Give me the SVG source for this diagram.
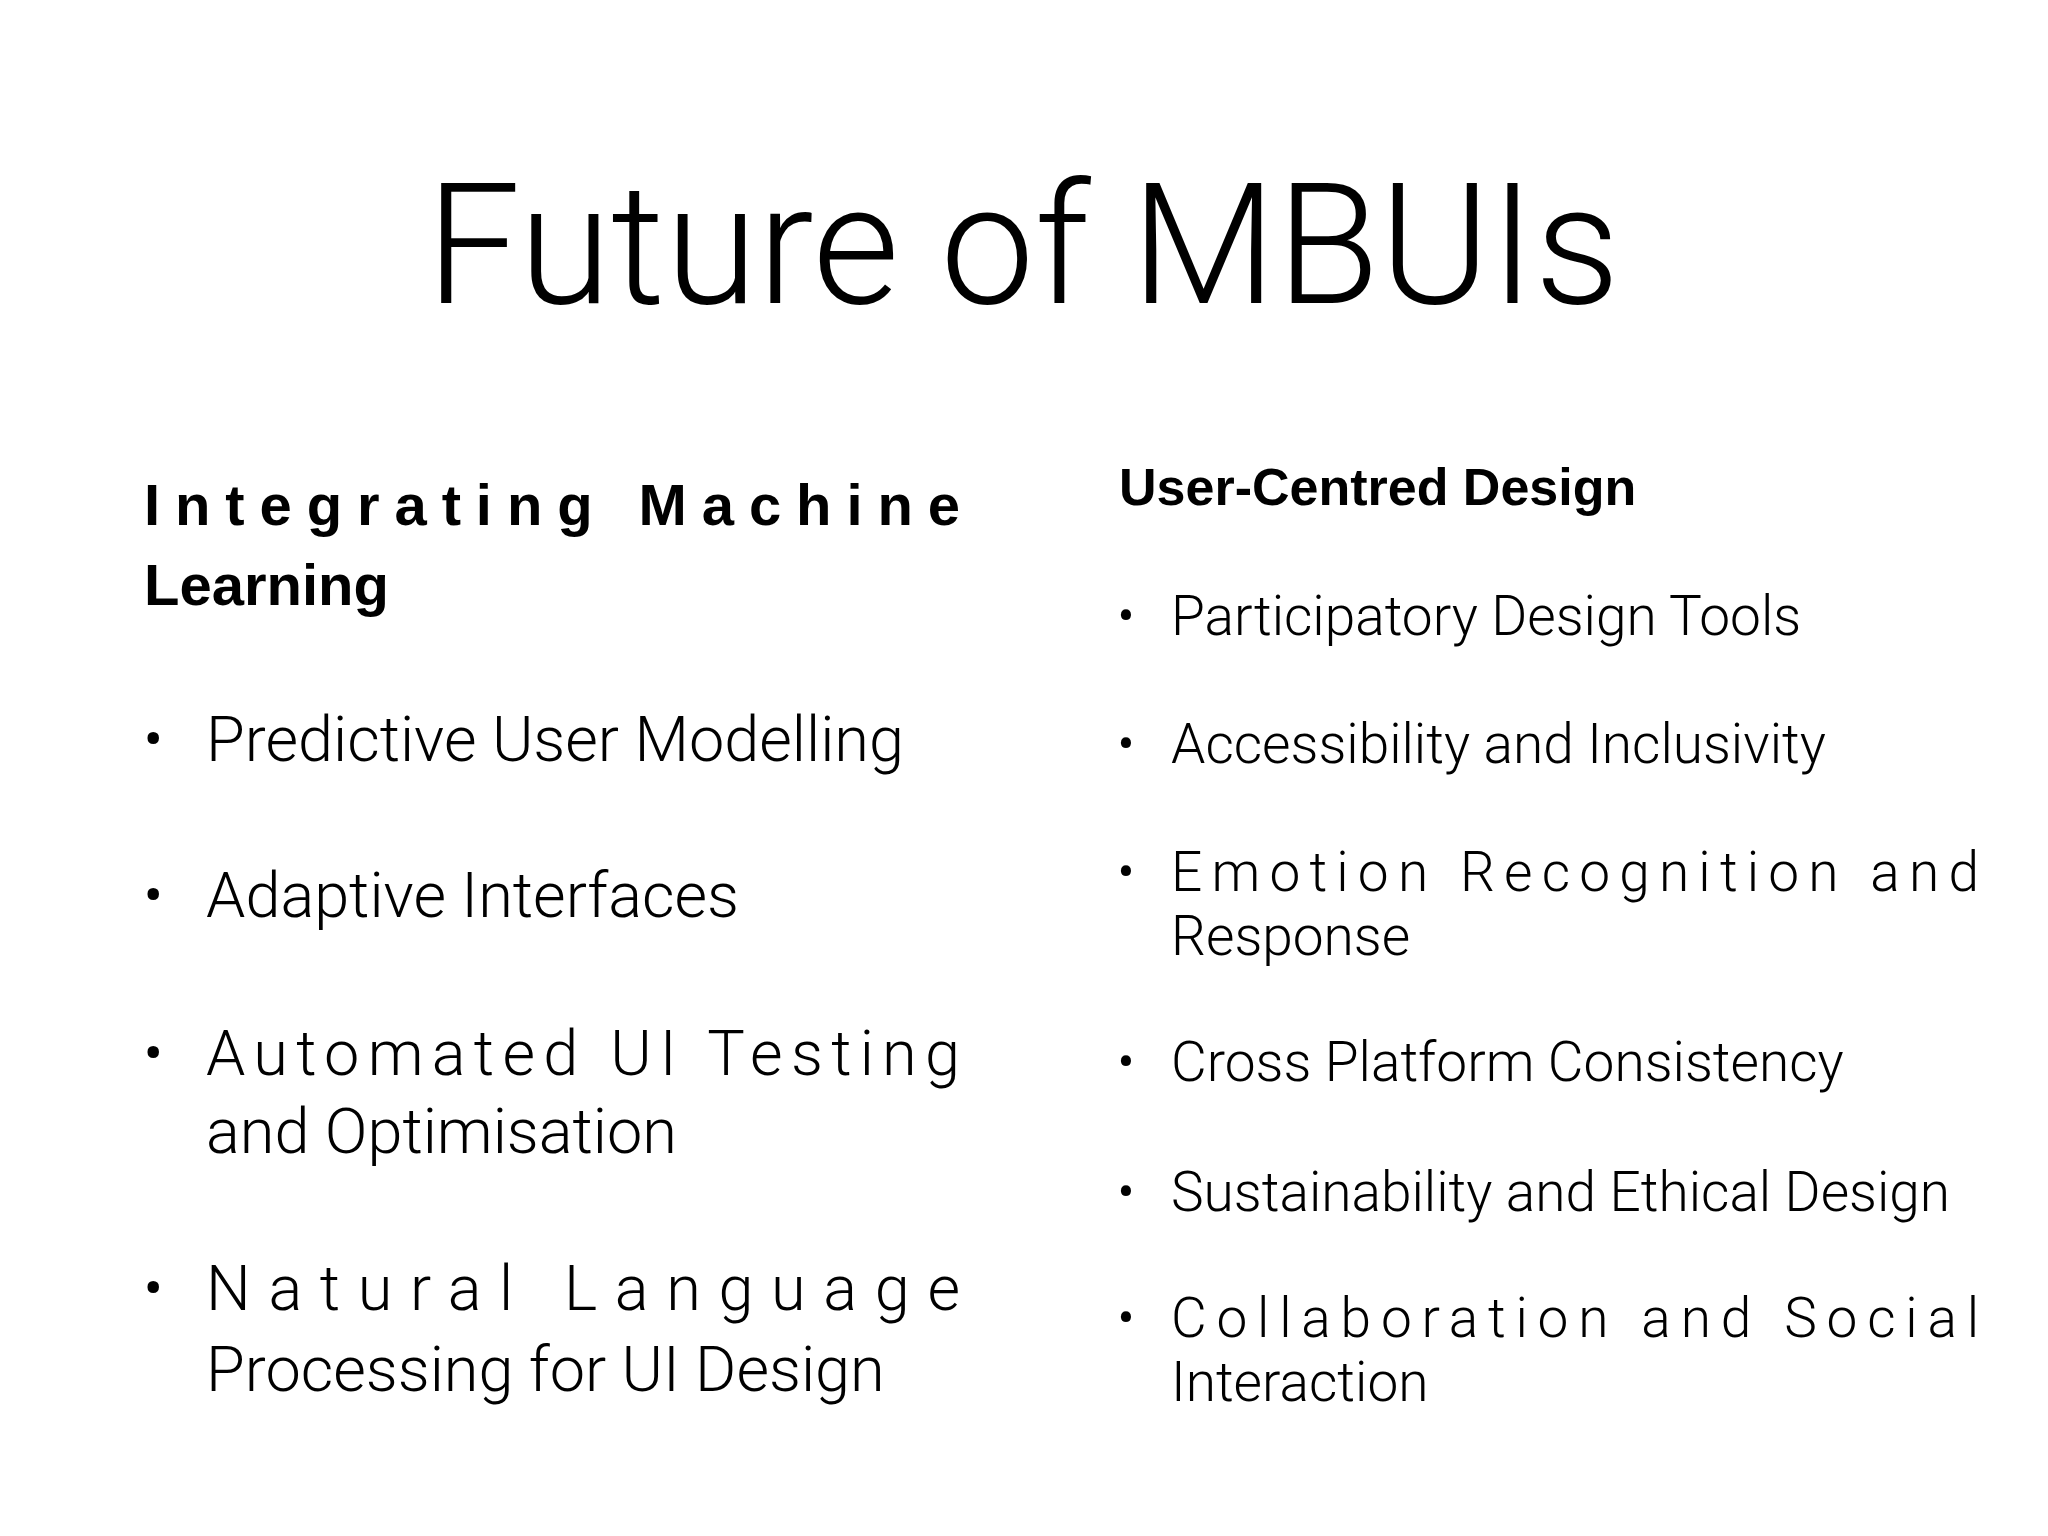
<svg xmlns="http://www.w3.org/2000/svg" width="2048" height="1536" viewBox="0 0 2048 1536">
<style>
.l{font-family:Roboto,"Liberation Sans",sans-serif;font-weight:300;fill:#000}
.b{font-family:"Liberation Sans",Arial,sans-serif;font-weight:bold;fill:#000}
.L{font-size:63px}.R{font-size:55px}
</style>
<rect width="2048" height="1536" fill="#fff"/>
<text class="l" x="1023" y="303" font-size="168" text-anchor="middle">Future of MBUIs</text>
<g id="left">
<text class="b" x="144" y="525" font-size="58" textLength="816" lengthAdjust="spacing">Integrating Machine</text>
<text class="b" x="144" y="605" font-size="58">Learning</text>
<g class="l L">
<text x="143" y="761">•</text><text x="206" y="761">Predictive User Modelling</text>
<text x="143" y="917">•</text><text x="206" y="917">Adaptive Interfaces</text>
<text x="143" y="1075">•</text><text x="206" y="1075" textLength="754" lengthAdjust="spacing">Automated UI Testing</text>
<text x="206" y="1153">and Optimisation</text>
<text x="143" y="1310">•</text><text x="206" y="1310" textLength="754" lengthAdjust="spacing">Natural Language</text>
<text x="206" y="1391">Processing for UI Design</text>
</g>
</g>
<g id="right">
<text class="b" x="1119" y="505" font-size="52">User-Centred Design</text>
<g class="l R">
<text x="1117" y="635">•</text><text x="1171" y="635">Participatory Design Tools</text>
<text x="1117" y="763">•</text><text x="1171" y="763">Accessibility and Inclusivity</text>
<text x="1117" y="891">•</text><text x="1171" y="891" textLength="808" lengthAdjust="spacing">Emotion Recognition and</text>
<text x="1171" y="955">Response</text>
<text x="1117" y="1081">•</text><text x="1171" y="1081">Cross Platform Consistency</text>
<text x="1117" y="1211">•</text><text x="1171" y="1211">Sustainability and Ethical Design</text>
<text x="1117" y="1337">•</text><text x="1171" y="1337" textLength="808" lengthAdjust="spacing">Collaboration and Social</text>
<text x="1171" y="1401">Interaction</text>
</g>
</g>
</svg>
